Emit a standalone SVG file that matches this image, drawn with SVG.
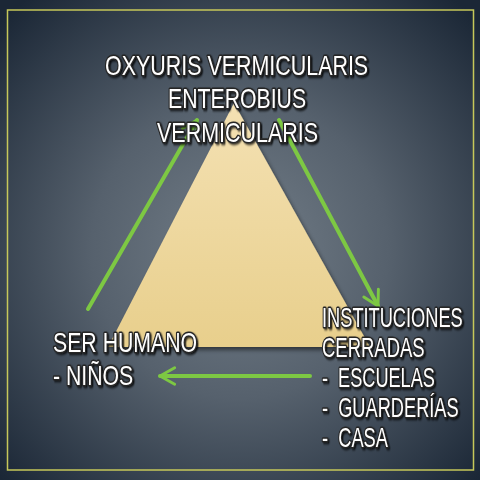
<svg xmlns="http://www.w3.org/2000/svg" width="480" height="480" viewBox="0 0 480 480">
<defs>
<radialGradient id="bg" cx="240" cy="250" r="330" gradientUnits="userSpaceOnUse">
<stop offset="0" stop-color="#737e88"/>
<stop offset="0.45" stop-color="#56616d"/>
<stop offset="1" stop-color="#1b2736"/>
</radialGradient>
<linearGradient id="tri" x1="0" y1="0" x2="0" y2="1">
<stop offset="0" stop-color="#f4e1b3"/>
<stop offset="1" stop-color="#e8cf8c"/>
</linearGradient>
<filter id="sh" x="-10%" y="-10%" width="130%" height="130%">
<feDropShadow dx="2" dy="3" stdDeviation="2" flood-color="#000" flood-opacity="0.5"/>
</filter>
<filter id="ts" x="-10%" y="-30%" width="130%" height="160%">
<feDropShadow dx="2" dy="1.5" stdDeviation="1" flood-color="#000" flood-opacity="0.8"/>
</filter>
<marker id="ah" viewBox="0 0 12 12" refX="10" refY="6" markerWidth="5.5" markerHeight="5.5" orient="auto" markerUnits="strokeWidth">
<path d="M2,1.5 L10,6 L2,10.5" fill="none" stroke="#7dc843" stroke-width="1.6" stroke-linecap="round" stroke-linejoin="round"/>
</marker>
</defs>
<style>
.t{font-family:"Liberation Sans",Arial,sans-serif;font-size:28px;fill:#fff;stroke:#262626;stroke-width:3;paint-order:stroke;stroke-linejoin:round;filter:url(#ts)}
.c{stroke:#7dc843;stroke-width:4;fill:none;stroke-linecap:round;marker-end:url(#ah)}
</style>
<rect x="0" y="0" width="480" height="480" fill="url(#bg)"/>
<rect x="7.5" y="10" width="466" height="460" fill="none" stroke="#c6c85a" stroke-width="1.5"/>
<g id="triangle">
<polygon points="234,103 108,347 370,347" fill="url(#tri)" filter="url(#sh)"/>
</g>
<g id="connectors">
<line class="c" x1="88" y1="309" x2="197" y2="120"/>
<line class="c" x1="279" y1="120" x2="378" y2="306"/>
<line class="c" x1="310" y1="376" x2="160" y2="376"/>
</g>
<g id="node-oxyuris" transform="translate(236.5,0) scale(0.68,1)">
<text class="t" x="-193.4" y="75" textLength="387" lengthAdjust="spacingAndGlyphs">OXYURIS VERMICULARIS</text>
<text class="t" x="-100.7" y="108" textLength="203" lengthAdjust="spacingAndGlyphs">ENTEROBIUS</text>
<text class="t" x="-116.9" y="142" textLength="237" lengthAdjust="spacingAndGlyphs">VERMICULARIS</text>
</g>
<g id="node-ser-humano" transform="translate(53,0) scale(0.68,1)">
<text class="t" x="0" y="352" textLength="212" lengthAdjust="spacingAndGlyphs">SER HUMANO</text>
<text class="t" x="0" y="385" textLength="118" lengthAdjust="spacingAndGlyphs">- NIÑOS</text>
</g>
<g id="node-instituciones" transform="translate(322,0) scale(0.68,1)">
<text class="t" x="0" y="327" textLength="207" lengthAdjust="spacingAndGlyphs">INSTITUCIONES</text>
<text class="t" x="0" y="357" textLength="151" lengthAdjust="spacingAndGlyphs">CERRADAS</text>
<text class="t" x="0" y="387" textLength="166" lengthAdjust="spacingAndGlyphs" xml:space="preserve">-  ESCUELAS</text>
<text class="t" x="0" y="417" textLength="201" lengthAdjust="spacingAndGlyphs" xml:space="preserve">-  GUARDERÍAS</text>
<text class="t" x="0" y="447" textLength="97" lengthAdjust="spacingAndGlyphs" xml:space="preserve">-  CASA</text>
</g>
</svg>
